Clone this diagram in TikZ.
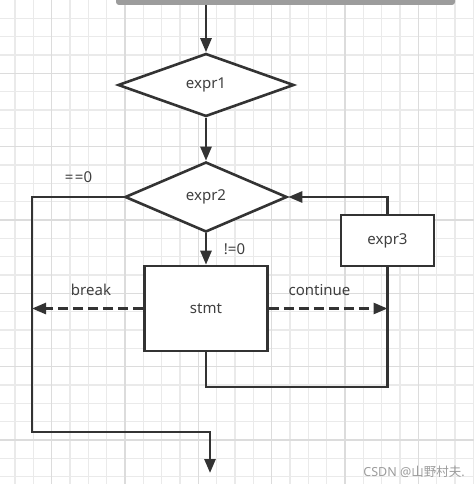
\documentclass[tikz,border=0pt]{standalone}
\usepackage{fontspec}
\setmainfont{Noto Sans}
\newfontfamily\cjkfont{Noto Sans CJK SC}
\usetikzlibrary{shapes.geometric,arrows.meta}
\definecolor{ink}{HTML}{333333}
\definecolor{txt}{HTML}{404040}
\definecolor{gminor}{HTML}{EAEAEA}
\definecolor{gmajor}{HTML}{DCDCDC}
\definecolor{barc}{HTML}{9C9C9C}
\begin{document}
\begin{tikzpicture}[x=1pt,y=-1pt,
  line/.style={draw=ink,line width=2.6pt},
  arr/.style={line,-{Triangle[length=14pt,width=11pt]}},
  dash line/.style={arr,dash pattern=on 10pt off 5pt},
  decision/.style={shape=diamond,draw=ink,line width=2.6pt,fill=white,inner sep=0pt,text=txt,font=\fontsize{15}{18}\selectfont},
  procbox/.style={shape=rectangle,draw=ink,line width=2.6pt,fill=white,inner sep=0pt,text=txt,font=\fontsize{15}{18}\selectfont},
  lbl/.style={text=txt,font=\fontsize{15}{18}\selectfont,inner sep=0pt}]
\useasboundingbox (0,0) rectangle (474,484);
\fill[white] (0,0) rectangle (474,484);
% grid
\foreach \k in {0,...,25} {
  \pgfmathsetmacro\gx{15+18.333*\k}
  \draw[gminor,line width=1.2pt] (\gx,0) -- (\gx,484);
}
\foreach \k in {1,...,26} {
  \pgfmathsetmacro\gy{18.333*\k}
  \draw[gminor,line width=1.2pt] (0,\gy) -- (474,\gy);
}
\foreach \k in {0,...,5} {
  \pgfmathsetmacro\gx{51.667+73.333*\k}
  \draw[gmajor,line width=1.2pt] (\gx,0) -- (\gx,484);
  \pgfmathsetmacro\gy{73.333*(\k+1)}
  \draw[gmajor,line width=1.2pt] (0,\gy) -- (474,\gy);
}
% top bar
\fill[barc,rounded corners=3pt] (116,-10) rectangle (455,5);
\coordinate (top) at (206,5);
% nodes
\node[decision,minimum width=176pt,minimum height=63pt] (e1) at (206,85) {expr1};
\node[decision,minimum width=162pt,minimum height=70pt] (e2) at (206,197) {expr2};
\node[procbox,minimum width=123pt,minimum height=85pt] (s) at (206,308.5) {stmt};
\node[procbox,minimum width=93pt,minimum height=51pt] (e3) at (387.5,240.5) {expr3};
\coordinate (bl) at (32,432);
\coordinate (br) at (387.5,387);
\coordinate (end) at (210,473);
% connectors
\draw[arr] (top) -- (e1.north);
\draw[arr] (e1.south) -- (e2.north);
\draw[arr] (e2.south) -- (s.north);
\draw[arr] (e2.west) -| (bl) -| (end);
\draw[line] (s.south) |- (br) -- (e3.south);
\draw[arr] (e3.north) |- (e2.east);
\draw[dash line] (s.west) -- (s.west -| bl);
\draw[dash line] (s.east) -- (s.east -| br);
% labels
\node[lbl] (l0) at (78.5,177) {=\kern1.5pt=0};
\node[lbl] (l1) at (234.5,249) {!=0};
\node[lbl] (l2) at (91,290) {break};
\node[lbl] (l3) at (319.5,290) {continue};
\node[text=barc,inner sep=0pt,font=\fontsize{12.5}{15}\selectfont] (wm) at (414,472) {CSDN @{\cjkfont 山野村夫}.};
\end{tikzpicture}
\end{document}
